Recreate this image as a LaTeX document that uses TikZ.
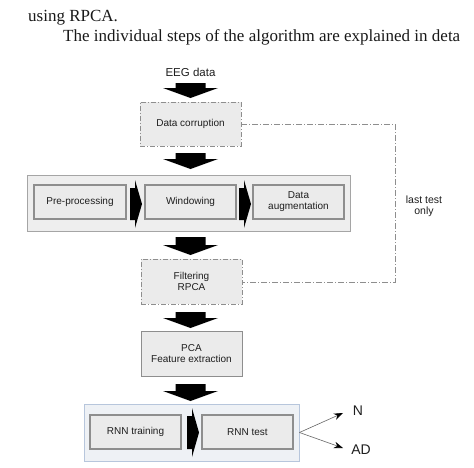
\documentclass[tikz,border=0pt]{standalone}
\usepackage{fontspec}
\setsansfont{Liberation Sans}
\newfontfamily\bodyserif{Liberation Serif}
\usetikzlibrary{arrows.meta}
\definecolor{boxfill}{HTML}{EBEBEB}
\definecolor{boxline}{HTML}{8E8E8E}
\definecolor{outerfill}{HTML}{EEEEEE}
\definecolor{bluefill}{HTML}{EEF1F5}
\definecolor{blueline}{HTML}{B7C6DC}
\definecolor{txt}{HTML}{1E1E1E}
\tikzset{
  lbl/.style={font=\sffamily\fontsize{10}{12}\selectfont, text=txt, align=center},
  dashbox/.style={lbl, draw=boxline, fill=boxfill, line width=0.7pt,
     dash pattern=on 5pt off 2pt on 1pt off 2pt, inner sep=0pt},
  solidbox/.style={lbl, draw=boxline, fill=boxfill, line width=0.8pt, inner sep=0pt},
  innerbox/.style={lbl, draw=boxline, fill=boxfill, line width=1.1pt, inner sep=0pt},
  outerbox/.style={draw=boxline!80, fill=outerfill, line width=0.8pt, inner sep=0pt},
  bluebox/.style={draw=blueline, fill=bluefill, line width=0.9pt, inner sep=0pt},
  feedback/.style={draw=boxline, line width=0.7pt, dash pattern=on 6pt off 2pt on 1pt off 2pt},
  outarrow/.style={draw=gray!80!black, line width=0.6pt, -{Stealth[black, length=9pt, width=6.5pt]}},
  bodytext/.style={anchor=base west, inner sep=0pt, text=black!90, font=\bodyserif\fontsize{17}{19}\selectfont},
}
\newcommand{\blockdown}[2]{%
  \fill[black] (175.5,#1) -- (205.5,#1) -- (205.5,{#2-10}) -- (218,{#2-10})
     -- (190.5,#2) -- (163,{#2-10}) -- (175.5,{#2-10}) -- cycle;}
\newcommand{\chevright}[3]{%
  \fill[black] (#1,{#2+8}) -- ({#1+5},{#2+8}) -- ({#1+5},#2) -- ({#1+12},{(#2+#3)/2})
     -- ({#1+5},#3) -- ({#1+5},{#3-8}) -- (#1,{#3-8}) -- cycle;}
\begin{document}
\begin{tikzpicture}[x=1pt,y=-1pt]
\useasboundingbox (0,0) rectangle (474,467);
\clip (0,0) rectangle (474,467);
% body text
\node[bodytext] (t1) at (28,21.5) {using RPCA.};
\node[bodytext] (t2) at (63,41) {The individual steps of the algorithm are explained in deta};
% input
\node[font=\sffamily\fontsize{11.5}{13}\selectfont, text=txt] (eeg) at (190.5,72) {EEG data};
\blockdown{83}{98}
% data corruption
\node[dashbox, minimum width=101pt, minimum height=44pt] (dc) at (190.5,124) {Data corruption};
\blockdown{153}{169}
% preprocessing group
\node[outerbox, minimum width=323pt, minimum height=56pt] (grp) at (188.5,203) {};
\node[innerbox, minimum width=92pt, minimum height=34pt] (pre) at (80,202) {Pre-processing};
\node[innerbox, minimum width=91pt, minimum height=34pt] (win) at (190.5,202) {Windowing};
\node[innerbox, minimum width=91pt, minimum height=34pt] (aug) at (298.5,202) {Data\\[-1pt]augmentation};
\chevright{130}{180}{228}
\chevright{239}{180}{228}
\blockdown{237}{255}
% filtering
\node[dashbox, minimum width=101pt, minimum height=45pt] (filt) at (191.5,281.5) {Filtering\\[-1pt]RPCA};
\blockdown{312}{328}
% PCA
\node[solidbox, minimum width=101pt, minimum height=45pt] (pca) at (191.5,353.5) {PCA\\[-1pt]Feature extraction};
\blockdown{384}{401}
% RNN group
\node[bluebox, minimum width=215pt, minimum height=57pt] (rnn) at (191.5,432.5) {};
\node[innerbox, minimum width=91pt, minimum height=34pt] (rtr) at (135.5,432) {RNN training};
\node[innerbox, minimum width=91pt, minimum height=34pt] (rte) at (247.5,432) {RNN test};
\chevright{187}{408}{457}
% feedback path
\coordinate (fb1) at (395,124);
\coordinate (fb2) at (395,282);
\draw[feedback] (dc.east) -- (fb1) -- (fb2) -- (filt.east |- fb2);
\node[font=\sffamily\fontsize{10.5}{12}\selectfont, text=txt, align=center] (last) at (424,206) {last test\\[-1pt]only};
% outputs
\node[font=\sffamily\fontsize{14}{16}\selectfont, text=txt] (n) at (358,411) {N};
\node[font=\sffamily\fontsize{14}{16}\selectfont, text=txt] (ad) at (361,450) {AD};
\coordinate (ntip) at (343,413);
\coordinate (adtip) at (343,448);
\draw[outarrow] (rnn.east) -- (ntip);
\draw[outarrow] (rnn.east) -- (adtip);
\end{tikzpicture}
\end{document}
